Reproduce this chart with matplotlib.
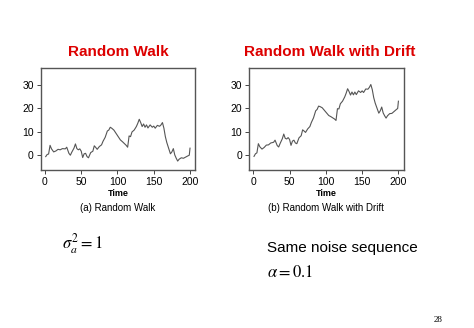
import matplotlib
matplotlib.use("Agg")
import matplotlib.pyplot as plt

plt.rcParams['font.family'] = ['Liberation Sans', 'DejaVu Sans']
plt.rcParams['mathtext.fontset'] = 'stix'

# time index of the points
t = [1, 3, 5, 7, 9, 12, 15, 18, 21, 24, 28, 30, 33, 35, 37, 40, 42, 44, 46, 48,
     50, 52, 54, 56, 58, 60, 63, 66, 68, 70, 72, 75, 78, 80, 83, 86, 88, 90, 92, 95,
     98, 101, 104, 107, 110, 112, 114, 116, 118, 120, 123, 126, 128, 130, 132, 134,
     136, 138, 140, 142, 145, 148, 150, 152, 155, 158, 160, 162, 164, 166, 168, 171,
     173, 175, 177, 179, 181, 183, 185, 188, 191, 194, 197, 199, 200]

# (a) random walk
walk = [-0.6, 0.3, 0.5, 4.2, 2.7, 1.4, 1.8, 2.5, 2.3, 2.8, 2.7, 3.4, 0.8, 0.0, 1.3,
        3.0, 4.8, 2.8, 2.3, 2.7, 1.7, -1.0, 0.6, 0.8, -0.6, -1.1, 1.1, 1.7, 4.0, 3.3,
        2.5, 3.7, 4.4, 5.9, 7.6, 10.3, 10.7, 11.9, 11.5, 10.7, 9.3, 7.9, 6.5, 5.7, 4.8,
        4.2, 3.4, 8.2, 7.9, 9.9, 10.7, 12.2, 13.6, 15.3, 13.9, 12.2, 13.3, 11.9, 12.9,
        11.6, 12.9, 11.9, 12.4, 11.5, 12.7, 12.3, 12.9, 13.9, 11.5, 7.9, 5.4, 2.5, 0.6,
        1.4, 2.8, 0.1, -1.3, -2.5, -1.7, -1.1, -1.3, -0.8, -0.3, 0.0, 3.0]

# (b) random walk with drift
drift = [-0.5, 0.6, 1.0, 4.9, 3.6, 2.6, 3.3, 4.3, 4.4, 5.2, 5.5, 6.4, 4.1, 3.5, 5.0,
         7.0, 9.0, 7.2, 6.9, 7.5, 6.7, 4.2, 6.0, 6.4, 5.2, 4.9, 7.4, 8.3, 10.8, 10.3,
         9.7, 11.2, 12.2, 13.9, 15.9, 18.9, 19.5, 20.9, 20.7, 20.2, 19.1, 18.0, 16.9,
         16.4, 15.8, 15.4, 14.8, 19.8, 19.7, 21.9, 23.0, 24.8, 26.4, 28.3, 27.1, 25.6,
         26.9, 25.7, 26.9, 25.8, 27.4, 26.7, 27.4, 26.7, 28.2, 28.1, 28.9, 30.1, 27.9,
         24.5, 22.2, 19.6, 17.9, 18.9, 20.5, 18.0, 16.8, 15.8, 16.8, 17.7, 17.8, 18.6,
         19.4, 19.9, 23.0]

panels = [
    ("Random Walk", "(a) Random Walk", walk),
    ("Random Walk with Drift", "(b) Random Walk with Drift", drift),
]

W, H = 474, 328
fig = plt.figure(figsize=(W / 100, H / 100), dpi=100)

def box(left, top, right, bottom):
    return [left / W, 1 - bottom / H, (right - left) / W, (bottom - top) / H]

axes_px = [(40.7, 68.3, 195.3, 170), (249, 68.3, 403.7, 170)]
title_x = [118, 330]

for (title, caption, y), px, tx in zip(panels, axes_px, title_x):
    ax = fig.add_axes(box(*px))
    ax.plot(t, y, color='#555555', lw=0.8)
    ax.set_xlim(-5.9, 207.3)
    ax.set_ylim(-6.3, 37)
    ax.set_xticks([0, 50, 100, 150, 200])
    ax.set_yticks([0, 10, 20, 30])
    ax.tick_params(labelsize=7.5, length=3, width=0.7, color='#444444', pad=2)
    for s in ax.spines.values():
        s.set_color('#555555')
        s.set_linewidth(1.0)
    fig.text(tx / W, 1 - 52 / H, title, color='#dd0000', fontsize=11,
             fontweight='bold', ha='center', va='center')
    cx = (px[0] + px[2]) / 2
    fig.text(cx / W, 1 - 193 / H, "Time", fontsize=6.5, fontweight='bold',
             ha='center', va='center')
    fig.text(cx / W, 1 - 208 / H, caption, fontsize=7, ha='center', va='center')

fig.text(62 / W, 1 - 244 / H, r"$\sigma_a^2 = 1$", fontsize=12, ha='left', va='center')
fig.text(267 / W, 1 - 248 / H, "Same noise sequence", fontsize=11, ha='left', va='center')
fig.text(267 / W, 1 - 272 / H, r"$\alpha = 0.1$", fontsize=12, ha='left', va='center')
fig.text(438 / W, 1 - 320 / H, "28", fontsize=6.5, family='Liberation Serif',
         ha='center', va='center')

fig.savefig("out.png", dpi=100)
